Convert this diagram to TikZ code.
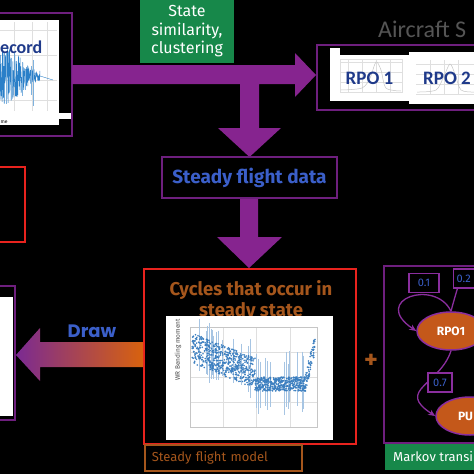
\documentclass[tikz,border=0pt]{standalone}
\usepackage{fontspec}
\setmainfont{Fira Sans}
\newfontfamily\popfont{Poppins}
\newfontfamily\calfont{Carlito}
\usetikzlibrary{arrows.meta,shapes.geometric}
\definecolor{arrowpurp}{HTML}{86248F}
\definecolor{boxpurp}{HTML}{6E1F7E}
\definecolor{linkpurp}{HTML}{8A2E9E}
\definecolor{greenc}{HTML}{17884A}
\definecolor{redc}{HTML}{E8231E}
\definecolor{orangec}{HTML}{A5561C}
\definecolor{ellfill}{HTML}{C4581A}
\definecolor{txtblue}{HTML}{3B5FC9}
\definecolor{darkblue}{HTML}{1F3A8A}
\definecolor{wave}{HTML}{2A7FC8}
\definecolor{dotblue}{HTML}{3C7FC0}
\definecolor{drawpurp}{HTML}{7B2A92}
\definecolor{draworange}{HTML}{D8620E}
\definecolor{graytxt}{HTML}{555555}
\tikzset{
  pbox/.style={draw=boxpurp, line width=2pt},
  lblbox/.style={draw=linkpurp, line width=1.2pt, inner sep=1.5pt, minimum width=30pt, minimum height=19pt, text=txtblue, font=\fontsize{11}{12}\selectfont},
  state/.style={ellipse, draw=linkpurp, line width=1.5pt, fill=ellfill, text=white, font=\bfseries\fontsize{12}{13}\selectfont, minimum width=68pt, minimum height=38pt, inner sep=0pt},
  link/.style={draw=linkpurp, line width=1.3pt},
  gridln/.style={draw=gray!25, line width=0.4pt}
}
\begin{document}
\begin{tikzpicture}[x=1pt,y=-1pt]
\useasboundingbox (0,0) rectangle (474,474);
\fill[black] (0,0) rectangle (474,474);
\clip (0,0) rectangle (474,474);
\pgfmathsetseed{7}

% ---------- record box (top left)
\draw[pbox, line width=2.5pt] (-10,13) rectangle (72,136);
\fill[white] (-10,20) rectangle (59,125);
\fill[white] (-10,113) rectangle (71,118.5);
\foreach \gx in {14,32,47} {\draw[gridln] (\gx,22) -- (\gx,111);}
\foreach \gy in {30,55,80,100} {\draw[gridln] (0,\gy) -- (57,\gy);}
\draw[wave, line width=0.5pt] plot[domain=-5:40, samples=200] (\x, {76+(24*exp(-((\x-8)/16)*((\x-8)/16))+5)*rand});
\draw[wave, line width=0.4pt] (40,76) -- (53,80);
\foreach \sx/\sa/\sb in {6/52/104,11/58/100,22/62/96,31/66/95,33/60/106,25/70/90} {\draw[wave!60, line width=0.4pt] (\sx,\sa) -- (\sx,\sb);}
\node[font=\calfont\bfseries\fontsize{18}{20}\selectfont, text=darkblue, anchor=base west, inner sep=0pt] (rec) at (0,53) {ecord};
\node[font=\fontsize{5}{6}\selectfont, anchor=west, inner sep=0pt] (tm) at (0.5,122) {me};

% ---------- main purple arrow with branch down
\fill[arrowpurp] (72,65) -- (295,65) -- (295,53) -- (316,75) -- (295,97) -- (295,84)
  -- (259,84) -- (259,128) -- (281,128) -- (249.5,157) -- (218,128) -- (240,128)
  -- (240,84) -- (72,84) -- cycle;

% ---------- green clustering box
\node[fill=greenc, text=white, minimum width=94pt, minimum height=63pt, align=center,
  font=\fontsize{16}{18.5}\selectfont, inner sep=0pt] (clu) at (187,31.5) {State\\similarity,\\clustering};

% ---------- aircraft states (top right)
\node[font=\calfont\fontsize{24}{26}\selectfont, text=graytxt, anchor=base west, inner sep=0pt] (acs) at (378,37) {Aircraft S};
\draw[pbox, line width=2.5pt] (317,45) rectangle (490,110);
\fill[white] (330,48) rectangle (340,56);
\fill[white] (330,55) rectangle (411,101);
\fill[white] (412,52) rectangle (490,104);
\fill[white] (409,52) rectangle (413,104);
\foreach \gx in {348,362,376,390} {\draw[gridln] (\gx,59) -- (\gx,92);}
\foreach \gy in {62,72,82,92} {\draw[gridln] (340,\gy) -- (402,\gy);}
\draw[gridln] (340,59) rectangle (402,92);
\foreach \gx in {430,444,458} {\draw[gridln] (\gx,60) -- (\gx,94);}
\foreach \gy in {64,74,84,94} {\draw[gridln] (416,\gy) -- (474,\gy);}
\draw[gray!45, line width=0.5pt] plot[smooth] coordinates {(341,90) (362,88) (370,78) (376,62) (381,70) (386,88) (401,91)};
\draw[gray!45, line width=0.5pt] plot[smooth] coordinates {(417,92) (436,90) (444,76) (450,64) (455,74) (461,90) (474,92)};
\node[font=\calfont\bfseries\fontsize{19}{20}\selectfont, text=darkblue, inner sep=0pt] (rpoa) at (369.5,78) {RPO 1};
\node[font=\calfont\bfseries\fontsize{19}{20}\selectfont, text=darkblue, inner sep=0pt] (rpob) at (447,78) {RPO 2};

% ---------- steady flight data
\fill[arrowpurp] (240,198) -- (258,198) -- (258,237) -- (282,237) -- (249,268) -- (217,237) -- (240,237) -- cycle;
\node[pbox, minimum width=175pt, minimum height=41pt, inner sep=0pt, text=txtblue,
  font=\bfseries\fontsize{19}{20}\selectfont] (sfd) at (249.5,177.5) {Steady flight data};

% ---------- red box left
\draw[redc, line width=2.5pt] (-10,167) rectangle (25,242);

% ---------- steady flight model (cycles)
\draw[redc, line width=2.5pt] (144,269) rectangle (356,444);
\node[text=orangec, font=\bfseries\fontsize{18.5}{21}\selectfont, align=center, inner sep=0pt] (cyc) at (251,301) {Cycles that occur in\\steady state};
\fill[white] (166,316) rectangle (333,440);
\foreach \gx in {223,256,290} {\draw[gridln] (\gx,327) -- (\gx,427);}
\foreach \gy in {352,377,402} {\draw[gridln] (190,\gy) -- (317,\gy);}
\draw[gray!45, line width=0.5pt] (190,327) rectangle (317,427);
\foreach \i in {1,...,30} {
  \pgfmathsetmacro\xx{192+123*rnd}
  \pgfmathsetmacro\yy{(\xx<255)?(348+(\xx-192)*0.4):((\xx<305)?385:(385-(\xx-305)*4))}
  \draw[dotblue!45, line width=0.3pt] (\xx,{\yy-20-15*rnd}) -- (\xx,{\yy+15+15*rnd});
}
\foreach \i in {1,...,1100} {
  \pgfmathsetmacro\xx{192+123*rnd}
  \pgfmathsetmacro\yy{(\xx<255)?(348+(\xx-192)*0.4+15*rand):((\xx<305)?(384+7*rand):(384-(\xx-305)*4+9*rand))}
  \fill[dotblue] (\xx,\yy) circle (0.9pt);
}
\node[rotate=90, font=\fontsize{6.5}{7}\selectfont, text=black!70, inner sep=0pt] (ylab) at (178,350) {WR Bending moment};
\node[draw=orangec, line width=1.5pt, anchor=north west, text width=143pt, inner xsep=7pt, inner ysep=0pt,
  minimum height=26pt, text=orangec, font=\fontsize{13}{14}\selectfont] (sfm) at (144,444) {Steady flight model};

% ---------- Draw arrow
\shade[left color=drawpurp, right color=draworange] (143,342) -- (40,342) -- (40,328) -- (16,355) -- (40,381) -- (40,367) -- (143,367) -- cycle;
\node[font=\popfont\bfseries\fontsize{18}{20}\selectfont, text=txtblue, inner sep=0pt] (drw) at (92,331) {Draw};

% ---------- left white box
\draw[pbox, line width=2pt] (-10,286) rectangle (15,420);
\fill[white] (-10,297) rectangle (13,416);

% ---------- plus
\node[text=orangec, font=\bfseries\fontsize{26}{26}\selectfont, inner sep=0pt] (plus) at (371,361) {+};

% ---------- Markov chain
\draw[pbox] (384,266) rectangle (490,443);
\fill[greenc] (385,444) rectangle (490,470);
\node[anchor=west, inner sep=0pt, text=white, font=\fontsize{13}{14}\selectfont] (mkv) at (393,457) {Markov transi};
\node[state] (rpo1) at (451,331) {RPO1};
\node[state, text width=24pt, align=left] (pu) at (470,416) {PU};
\draw[link, -{Stealth[length=7pt,width=6pt]}] (rpo1.north) .. controls (435,278) and (370,300) .. (rpo1.west);
\draw[link] (rpo1.north) .. controls (454,300) .. (460,280);
\draw[link, -{Stealth[length=7pt,width=6pt]}] (rpo1.south) .. controls (440,385) and (395,390) .. (pu.west);
\node[lblbox, fill=black] (l01) at (424,283) {0.1};
\node[lblbox, fill=black, anchor=west, minimum width=0pt, text width=18pt, inner xsep=3pt, align=left] (l02) at (453,278.5) {0.2};
\node[lblbox, fill=black, minimum width=24pt] (l07) at (440,382.5) {0.7};
\end{tikzpicture}
\end{document}
